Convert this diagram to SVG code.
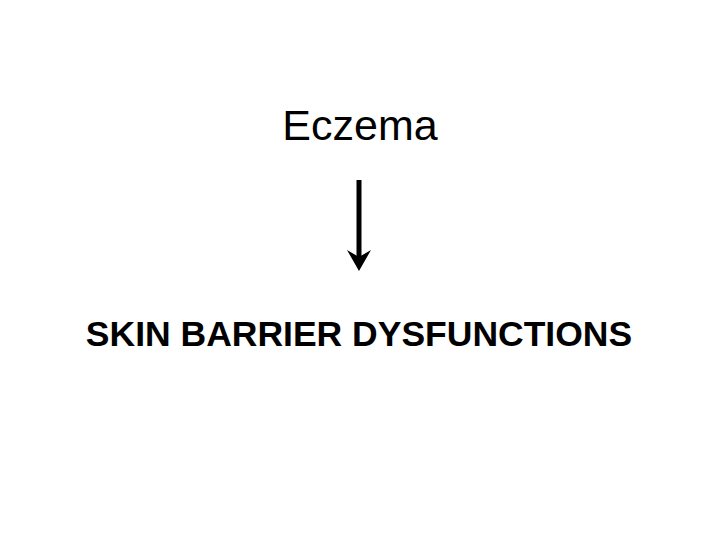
<svg xmlns="http://www.w3.org/2000/svg" width="720" height="540" viewBox="0 0 720 540">
<defs>
<style>
.t{font-family:"Liberation Sans",Arial,sans-serif;fill:#000;text-anchor:middle}
.c{stroke:#000;stroke-width:5;fill:none}
.h{fill:#000}
</style>
</defs>
<rect width="720" height="540" fill="#fff"/>
<g id="eczema"><text class="t" x="360" y="140" font-size="43">Eczema</text></g>
<g id="skin-barrier"><text class="t" x="359" y="346" font-size="35.5" font-weight="bold">SKIN BARRIER DYSFUNCTIONS</text></g>
<g id="connectors">
<path class="c" d="M359,180 L359,262"/>
<path class="h" d="M347,250 L359,271 L371,250 L359,257 Z"/>
</g>
</svg>
